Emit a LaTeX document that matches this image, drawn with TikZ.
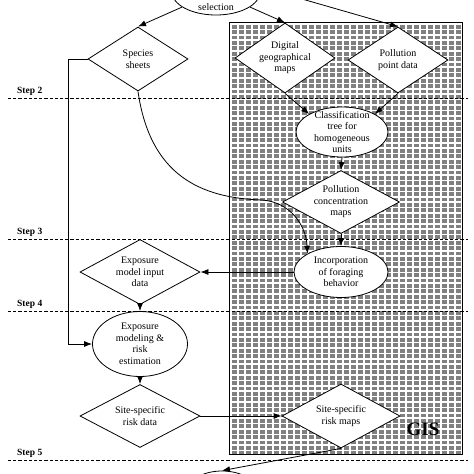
\documentclass[tikz,border=0pt]{standalone}
\usepackage{fontspec}
\setmainfont{Liberation Serif}
\usetikzlibrary{shapes.geometric,arrows.meta}
\begin{document}
\begin{tikzpicture}[x=1pt,y=-1pt,
  every node/.style={font=\fontsize{10}{11.5}\selectfont},
  dia/.style={diamond, draw, line width=0.8pt, fill=white, inner sep=0pt, align=center},
  ell/.style={ellipse, draw, line width=0.8pt, fill=white, inner sep=0pt},
  txt/.style={align=center, inner sep=0pt},
  arr/.style={draw, line width=0.8pt, -{Latex[length=8pt,width=6pt]}},
  stepline/.style={line width=0.8pt, dash pattern=on 3.2pt off 2pt},
  steplab/.style={font=\bfseries\fontsize{9.5}{11}\selectfont, anchor=west, inner sep=0pt}]

\useasboundingbox (0,0) rectangle (474,474);
\fill[white] (0,0) rectangle (474,474);

% GIS texture
\begin{scope}
\clip (229,22) rectangle (462,454);
\fill[black!50] (229,22) rectangle (462,454);
\foreach \i in {0,...,33} \draw[white, line width=2.4pt] ({231+\i*7},22) -- ++(0,432);
\foreach \j in {0,...,80} \draw[white, line width=1.7pt] (229,{24+\j*5.4}) -- ++(233,0);
\end{scope}
\node[draw, line width=1pt, minimum width=233pt, minimum height=432pt, inner sep=0pt] (gis) at (345.5,238) {};
\node[font=\bfseries\fontsize{19}{19}\selectfont, inner sep=0pt] (gislab) at (423,429) {GIS};

% nodes
\node[ell, minimum width=88pt, minimum height=46pt] (sel) at (216,-8) {};
\node[txt] (seltxt) at (216,7) {selection};
\node[dia, aspect=1.56, minimum width=100pt, minimum height=64pt] (species) at (138,59) {Species\\sheets};
\node[dia, aspect=1.43, minimum width=100pt, minimum height=70pt] (dgm) at (285,58) {Digital\\geographical\\maps};
\node[dia, aspect=1.5, minimum width=100pt, minimum height=66pt] (ppd) at (398,60) {Pollution\\point data};
\node[ell, minimum width=92pt, minimum height=50pt, label={[txt]center:{Classification\\tree for\\homogeneous\\units}}] (cls) at (342,132) {};
\node[dia, aspect=1.86, minimum width=117pt, minimum height=63pt] (pcm) at (341,202) {Pollution\\concentration\\maps};
\node[ell, minimum width=94pt, minimum height=51pt, label={[txt]center:{Incorporation\\of foraging\\behavior}}] (inc) at (341,272) {};
\node[dia, aspect=1.85, minimum width=120pt, minimum height=65pt] (emi) at (140,272) {Exposure\\model input\\data};
\node[ell, minimum width=95pt, minimum height=65pt, label={[txt]center:{Exposure\\modeling \&\\risk\\estimation}}] (erm) at (140,344) {};
\node[dia, aspect=1.9, minimum width=120pt, minimum height=63pt] (srd) at (140,416) {Site-specific\\risk data};
\node[dia, aspect=1.84, minimum width=118pt, minimum height=64pt] (srm) at (341,416) {Site-specific\\risk maps};
\node[ell, minimum width=67pt, minimum height=38pt] (bot) at (222,490) {};

% step lines
\coordinate (s2a) at (8,98);  \coordinate (s2b) at (468,98);
\coordinate (s3a) at (8,239); \coordinate (s3b) at (468,239);
\coordinate (s4a) at (8,311); \coordinate (s4b) at (468,311);
\coordinate (s5a) at (8,460); \coordinate (s5b) at (468,460);
\draw[stepline] (s2a) -- (s2b);
\draw[stepline] (s3a) -- (s3b);
\draw[stepline] (s4a) -- (s4b);
\draw[stepline] (s5a) -- (s5b);
\node[steplab] (st2) at (17,91) {Step 2};
\node[steplab] (st3) at (17,232) {Step 3};
\node[steplab] (st4) at (17,304) {Step 4};
\node[steplab] (st5) at (17,453) {Step 5};

% connectors
\coordinate (topsrc) at (302,-1);
\draw[arr] (sel) -- (species.north);
\draw[arr] (sel) -- (dgm.north);
\draw[arr] (topsrc) -- (ppd.north);
\draw[arr] (dgm.south) -- (cls.north west);
\draw[arr] (ppd.south) -- (cls.north east);
\draw[arr] (cls.south) -- (pcm.north);
\draw[arr] (pcm.south) -- (inc.north);
\draw[arr] (species.south) .. controls (150,175) and (200,198) .. (262,200) .. controls (290,202) and (306,225) .. (inc.north west);
\draw[arr] (inc.west) -- (emi.east);
\draw[arr] (emi.south) -- (erm.north);
\draw[arr] (erm.south) -- (srd.north);
\draw[arr] (srd.east) -- (srm.west);
\draw[arr] (srm.south) -- (bot.north);
\draw[arr] (species.west) -- ++(-19,0) |- (erm.west);
\end{tikzpicture}
\end{document}
